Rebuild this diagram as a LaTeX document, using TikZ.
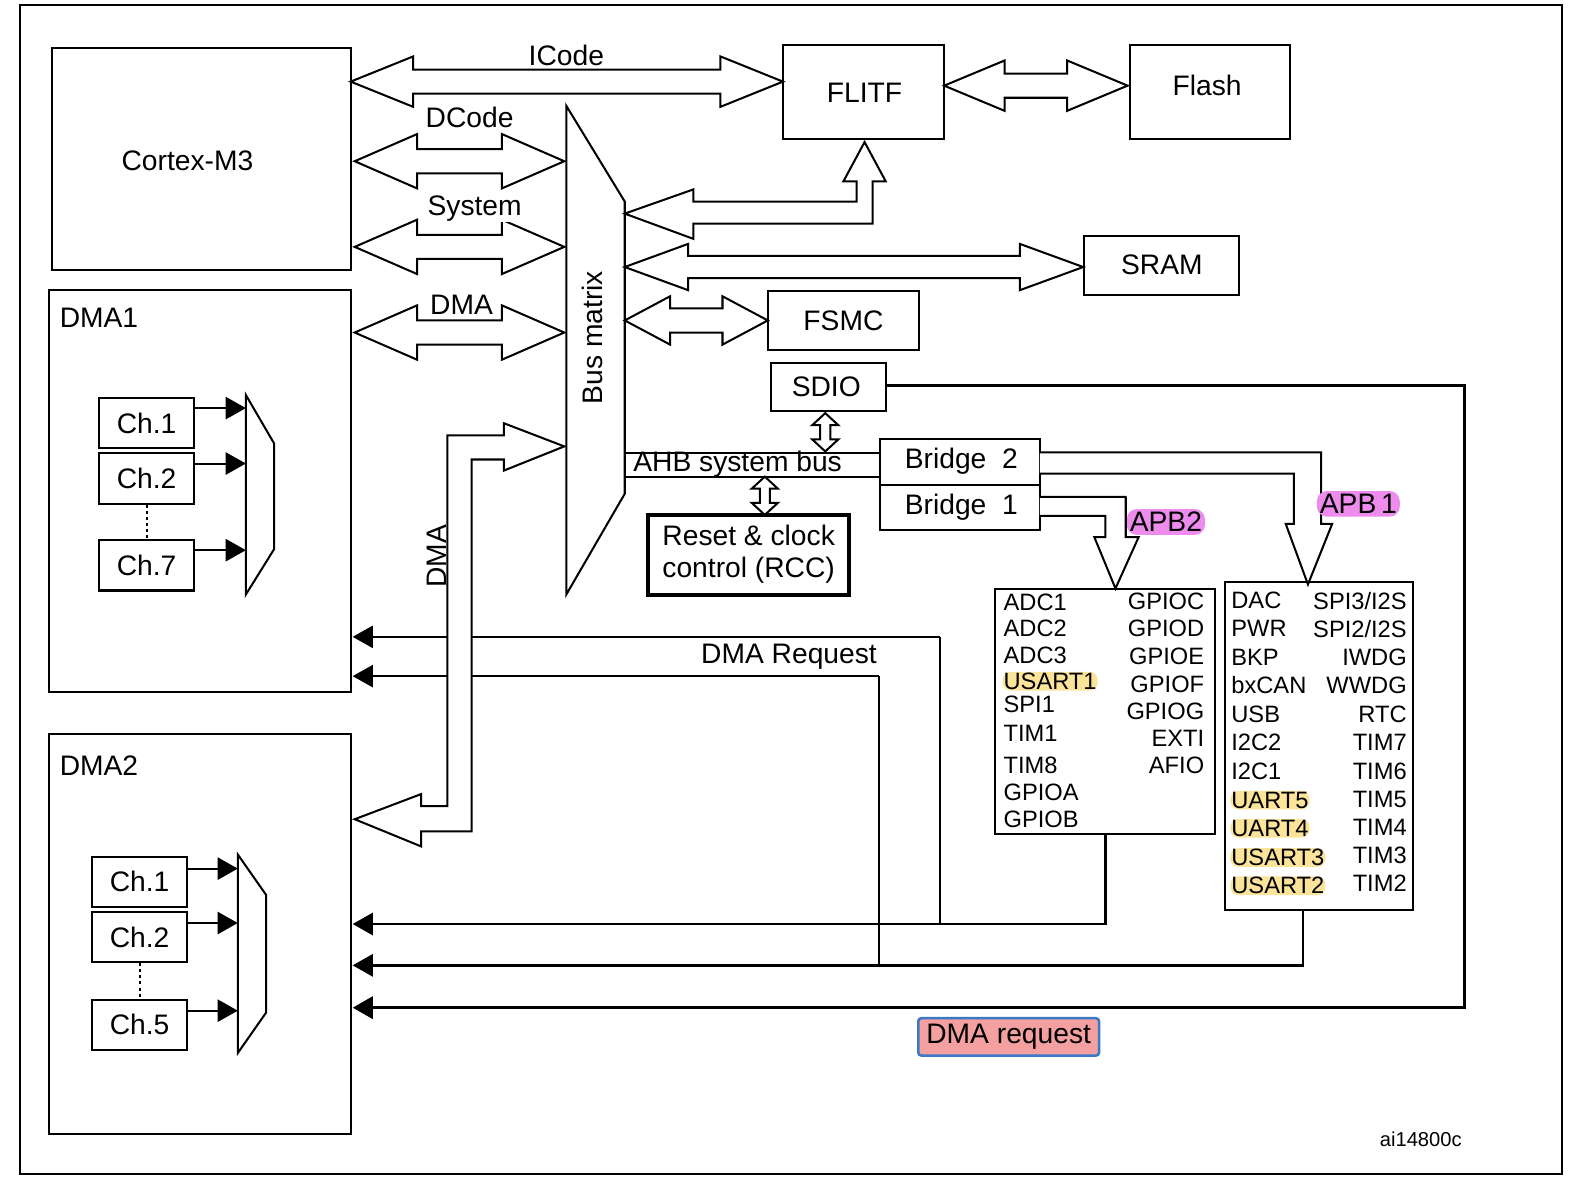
\documentclass[tikz,border=0pt]{standalone}
\usepackage{fontspec}
\setmainfont{Liberation Sans}
\usetikzlibrary{arrows.meta}
\definecolor{hly}{HTML}{FBE49A}
\definecolor{hlp}{HTML}{EE8CEE}
\definecolor{hlr}{HTML}{F4A0A0}
\definecolor{hlb}{HTML}{3A78C8}
\newcommand{\myHDbl}[6]{% xa xb y s L h
 \draw[bus] (#1,#3) -- ({#1+#5},{#3-#6}) -- ({#1+#5},{#3-#4}) -- ({#2-#5},{#3-#4}) -- ({#2-#5},{#3-#6}) -- (#2,#3) -- ({#2-#5},{#3+#6}) -- ({#2-#5},{#3+#4}) -- ({#1+#5},{#3+#4}) -- ({#1+#5},{#3+#6}) -- cycle;}
\newcommand{\myVDbl}[6]{% ya yb x s L h
 \draw[bus] (#3,#1) -- ({#3-#6},{#1+#5}) -- ({#3-#4},{#1+#5}) -- ({#3-#4},{#2-#5}) -- ({#3-#6},{#2-#5}) -- (#3,#2) -- ({#3+#6},{#2-#5}) -- ({#3+#4},{#2-#5}) -- ({#3+#4},{#1+#5}) -- ({#3+#6},{#1+#5}) -- cycle;}
\begin{document}
\begin{tikzpicture}[x=1pt,y=-1pt,
  line width=2pt,
  bus/.style={draw=black,fill=white,line width=2pt,line join=miter},
  big/.style={font=\fontsize{28}{32}\selectfont},
  lst/.style={font=\fontsize{23.5}{26}\selectfont,inner sep=1pt},
  req/.style={-{Triangle[length=20pt,width=22pt]}},
  ch/.style={draw,line width=2pt,minimum width=95pt,minimum height=50pt,big,inner sep=0pt}]
\useasboundingbox (0,0) rectangle (1568,1176);
\draw (20,5) rectangle (1550,1165);
% main boxes
\draw (52,48) rectangle (348,268); \node[big] (cm3) at (186,160) {Cortex-M3};
\draw (49,288) rectangle (348,687); \node[big,anchor=west] (dma1) at (55,315) {DMA1};
\draw (49,728) rectangle (348,1125); \node[big,anchor=west] (dma2) at (55,760) {DMA2};
% DMA1 channels
\node[ch] (a1) at (145.5,420) {Ch.1};
\node[ch] (a2) at (145.5,475) {Ch.2};
\node[ch] (a7) at (145.5,561) {Ch.7};
\draw[dashed] (a2.south) -- (a7.north);
\draw (244,392) -- (272,440) -- (272,545) -- (244,590) -- cycle;
\foreach \y in {405,460,546} \draw[req] (193,\y) -- (244,\y);
% DMA2 channels
\node[ch] (b1) at (138.5,875) {Ch.1};
\node[ch] (b2) at (138.5,930) {Ch.2};
\node[ch] (b5) at (138.5,1017) {Ch.5};
\draw[dashed] (b2.south) -- (b5.north);
\draw (236,848) -- (264,888) -- (264,1005) -- (236,1045) -- cycle;
\foreach \y in {862,916,1003} \draw[req] (186,\y) -- (236,\y);
% bus matrix
\draw (562,105) -- (620,200) -- (620,490) -- (562,590) -- cycle;
\node[big,rotate=90] (bm) at (588,335) {Bus matrix};
% buses
\myHDbl{348}{777}{81}{12}{62}{25}
\node[big] at (562,55) {ICode};
\myHDbl{352}{560}{160}{12}{62}{27}
\node[big,fill=white,inner sep=1pt] at (466,117) {DCode};
\myHDbl{352}{560}{245}{12}{62}{27}
\node[big,fill=white,inner sep=1pt] at (471,207) {System};
\myHDbl{352}{560}{330}{12}{62}{27}
\node[big,fill=white,inner sep=1pt] at (458,302) {DMA};
\draw (777,45) rectangle (937,138); \node[big] (flitf) at (858,92) {FLITF};
\draw (1121,45) rectangle (1280,138); \node[big] (flash) at (1198,85) {Flash};
\myHDbl{937}{1119}{85}{12}{60}{25}
\draw[bus] (620,212) -- (688,188) -- (688,200) -- (850,200) -- (850,180) -- (837,180) -- (858,141) -- (879,180) -- (866,180) -- (866,222) -- (688,222) -- (688,237) -- cycle;
\draw (1076,234) rectangle (1230,293); \node[big] (sram) at (1153,263) {SRAM};
\myHDbl{620}{1075}{265}{11}{63}{23}
\draw (762,289) rectangle (912,347); \node[big] (fsmc) at (837,318) {FSMC};
\myHDbl{620}{762}{318}{12}{45}{24}
\draw (765,360) rectangle (879,408); \node[big] (sdio) at (820,384) {SDIO};
\myVDbl{410}{448}{819}{5}{12}{13}
% AHB
\draw (620,450) -- (873,450);
\draw (620,473) -- (873,473);
\node[big] (ahb) at (732,461) {AHB system bus};
\myVDbl{473}{511}{759}{5}{12}{13}
\draw[line width=4pt] (643,511) rectangle (843,590);
\node[big,align=left] (rcc) at (743,550) {Reset \& clock\\control (RCC)};
% bridges
\draw (873,436) rectangle (1032,526); \draw (873,481) -- (1032,481);
\node[big] (br2) at (954,458) {Bridge\ \ 2};
\node[big] (br1) at (954,503) {Bridge\ \ 1};
% APB1
\draw[bus] (1032,449) -- (1311,449) -- (1311,520) -- (1322,520) -- (1298,580) -- (1276,520) -- (1284,520) -- (1284,470) -- (1032,470);
\node[big,fill=hlp,rounded corners=10pt,inner sep=3pt] (apb1) at (1348,500) {APB\,1};
% APB2
\draw[bus] (1032,493) -- (1117,493) -- (1117,533) -- (1130,533) -- (1107,584) -- (1086,533) -- (1097,533) -- (1097,512) -- (1032,512);
\node[big,fill=hlp,rounded corners=10pt,inner sep=3pt] (apb2) at (1157,518) {APB2};
\draw[line width=2pt] (1117,493) -- (1117,533);
% peripheral boxes
\draw (987,585) rectangle (1206,828);
\draw (1216,578) rectangle (1402,903);
\foreach \t/\y in {ADC1/598,ADC2/624,ADC3/650,SPI1/699,TIM1/728,TIM8/760,GPIOA/786,GPIOB/813}
  \node[lst,anchor=west] at (994,\y) {\t};
\node[lst,anchor=west,fill=hly,rounded corners=8pt] at (994,676) {USART1};
\foreach \t/\y in {GPIOC/597,GPIOD/624,GPIOE/651,GPIOF/679,GPIOG/706,EXTI/733,AFIO/760}
  \node[lst,anchor=east] at (1197,\y) {\t};
\foreach \t/\y in {DAC/596,PWR/624,BKP/652,bxCAN/680,USB/709,I2C2/737,I2C1/765}
  \node[lst,anchor=west] at (1220,\y) {\t};
\foreach \t/\y in {UART5/794,UART4/822,USART3/851,USART2/879}
  \node[lst,anchor=west,fill=hly,rounded corners=8pt] at (1220,\y) {\t};
\foreach \t/\y in {{SPI3/I2S}/596,{SPI2/I2S}/624,IWDG/652,WWDG/680,RTC/709,TIM7/737,TIM6/765,TIM5/793,TIM4/821,TIM3/849,TIM2/877}
  \node[lst,anchor=east] at (1398,\y) {\t};
% DMA requests
\draw[req] (933,632) -- (350,632);
\draw (933,632) -- (933,917);
\draw[req] (872,671) -- (350,671);
\draw (872,671) -- (872,958);
\node[big] (dreq) at (783,652) {DMA Request};
\draw[req,line width=2.5pt] (1097,828) -- (1097,917) -- (350,917);
\draw[req,line width=2.5pt] (1293,903) -- (1293,958) -- (350,958);
\draw[req,line width=3pt] (879,383) -- (1453,383) -- (1453,1000) -- (350,1000);
\node[big,fill=hlr,draw=hlb,line width=2.5pt,rounded corners=3pt,inner xsep=8pt,inner ysep=6pt] (dreq2) at (1001,1029) {DMA request};
% DMA bent bus
\draw[bus] (560,443) -- (500,420) -- (500,432) -- (444,432) -- (444,800) -- (418,800) -- (418,788) -- (352,813) -- (418,840) -- (418,825) -- (468,825) -- (468,456) -- (500,456) -- (500,467) -- cycle;
\node[big,rotate=90] at (433,552) {DMA};
\node[font=\fontsize{20}{24}\selectfont] (ai) at (1410,1131) {ai14800c};
\end{tikzpicture}
\end{document}
